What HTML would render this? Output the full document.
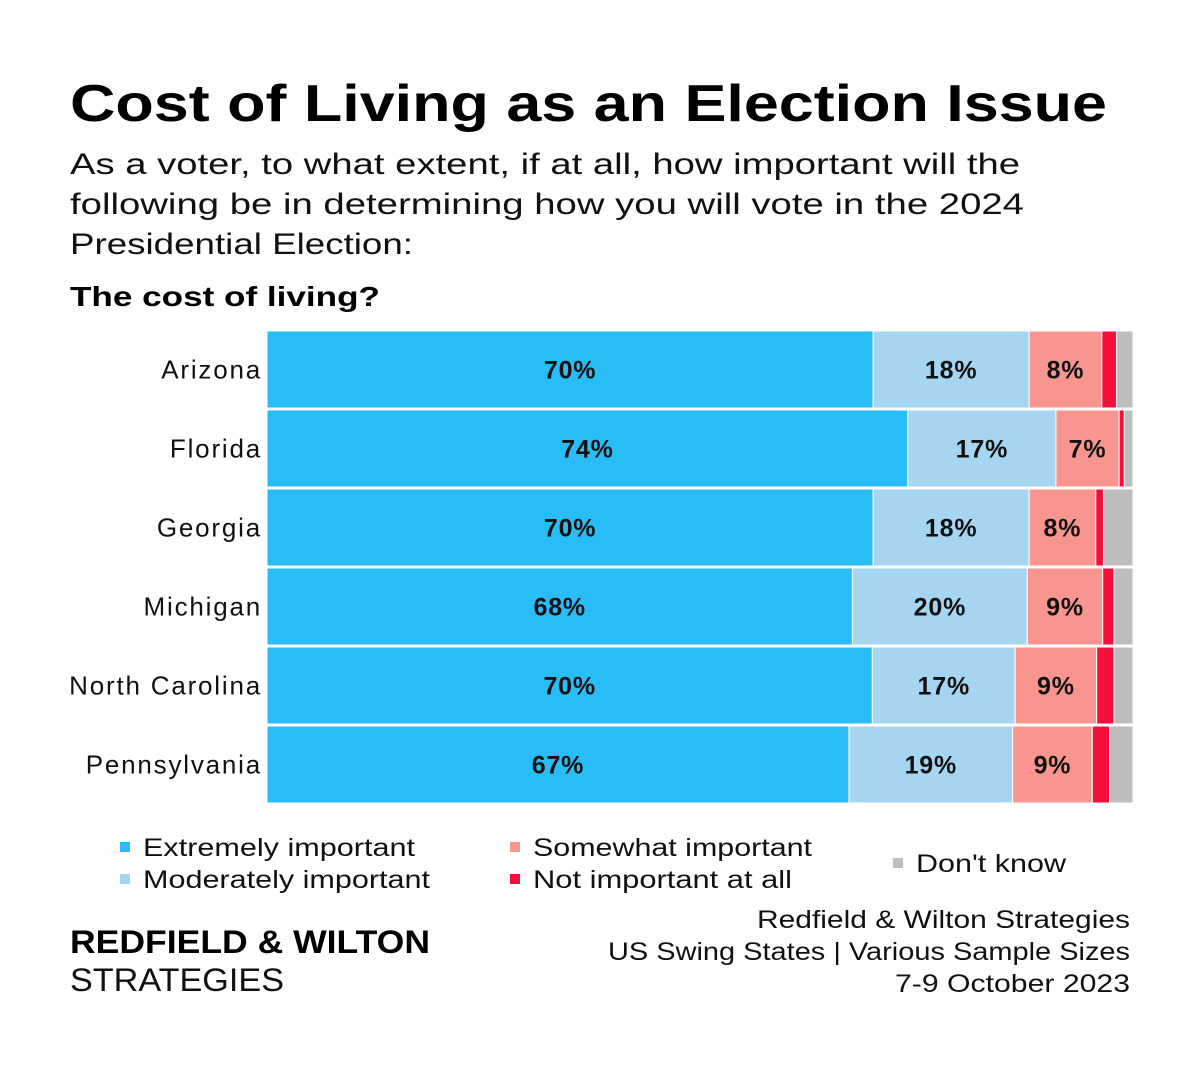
<!DOCTYPE html>
<html><head><meta charset="utf-8"><style>
html,body{margin:0;padding:0;background:#fff;}
svg{display:block;font-family:"Liberation Sans",sans-serif;}
</style></head><body>
<svg id="chart" width="1200" height="1067" viewBox="0 0 1200 1067">
<text x="70" y="121" font-size="52" font-weight="bold" fill="#000" textLength="1037" lengthAdjust="spacingAndGlyphs">Cost of Living as an Election Issue</text>
<g font-size="30" fill="#111">
<text x="70" y="174" textLength="950" lengthAdjust="spacingAndGlyphs">As a voter, to what extent, if at all, how important will the</text>
<text x="70" y="214" textLength="954" lengthAdjust="spacingAndGlyphs">following be in determining how you will vote in the 2024</text>
<text x="70" y="254" textLength="343" lengthAdjust="spacingAndGlyphs">Presidential Election:</text>
</g>
<text x="70" y="306" font-size="28" font-weight="bold" fill="#000" textLength="310" lengthAdjust="spacingAndGlyphs">The cost of living?</text>
<g id="bars"></g>
<g font-size="25" fill="#111">
<rect x="120" y="842" width="10" height="10" fill="#29bdf8"/>
<text x="143" y="856" textLength="272" lengthAdjust="spacingAndGlyphs">Extremely important</text>
<rect x="120" y="874" width="10" height="10" fill="#a6d5f2"/>
<text x="143" y="888" textLength="287" lengthAdjust="spacingAndGlyphs">Moderately important</text>
<rect x="510" y="842" width="10" height="10" fill="#f8958f"/>
<text x="533" y="856" textLength="279" lengthAdjust="spacingAndGlyphs">Somewhat important</text>
<rect x="510" y="874" width="10" height="10" fill="#f5103c"/>
<text x="533" y="888" textLength="259" lengthAdjust="spacingAndGlyphs">Not important at all</text>
<rect x="893" y="858" width="10" height="10" fill="#bdbdbd"/>
<text x="916" y="872" textLength="150" lengthAdjust="spacingAndGlyphs">Don't know</text>
</g>
<text x="70" y="953" font-size="32" font-weight="bold" fill="#000" textLength="360" lengthAdjust="spacingAndGlyphs">REDFIELD &amp; WILTON</text>
<text x="70" y="991" font-size="32" fill="#111" textLength="214" lengthAdjust="spacingAndGlyphs">STRATEGIES</text>
<g font-size="25" fill="#111">
<text x="757" y="928" textLength="373" lengthAdjust="spacingAndGlyphs">Redfield &amp; Wilton Strategies</text>
<text x="608" y="960" textLength="522" lengthAdjust="spacingAndGlyphs">US Swing States | Various Sample Sizes</text>
<text x="895" y="992" textLength="235" lengthAdjust="spacingAndGlyphs">7-9 October 2023</text>
</g>
</svg>
<script>
const states = ["Arizona","Florida","Georgia","Michigan","North Carolina","Pennsylvania"];
const extremely = [70, 74, 70, 67.6, 69.9, 67.2];
const moderately = [18, 17.1, 18, 20.2, 16.5, 18.9];
const somewhat = [8.4, 7.3, 7.7, 8.7, 9.4, 9.2];
const notImportant = [1.7, 0.6, 0.9, 1.3, 2.0, 2.0];
const dontKnow = [1.9, 1.0, 3.4, 2.2, 2.2, 2.7];
const seriesNames = ["extremely","moderately","somewhat","not-important","dont-know"];
const seriesColors = ["#29bdf8","#a6d5f2","#f8958f","#f5103c","#bdbdbd"];

const NS = "http://www.w3.org/2000/svg";
const g = document.getElementById("bars");
const x0 = 267, plotW = 866, y0 = 331, rowH = 79, barH = 77;
const xScale = v => v / 100 * plotW;
const yScale = i => y0 + i * rowH;
const series = [extremely, moderately, somewhat, notImportant, dontKnow];

states.forEach((s, i) => {
  const y = yScale(i);
  const lab = document.createElementNS(NS, "text");
  lab.setAttribute("x", 262);
  lab.setAttribute("y", y + barH/2 + 9);
  lab.setAttribute("text-anchor", "end");
  lab.setAttribute("font-size", "26");
  lab.setAttribute("letter-spacing", "1.8");
  lab.setAttribute("fill", "#111");
  lab.textContent = s;
  
  
  g.appendChild(lab);
  let cum = 0;
  series.forEach((arr, k) => {
    const v = arr[i];
    const x = x0 + xScale(cum);
    const w = xScale(v);
    const r = document.createElementNS(NS, "rect");
    r.setAttribute("x", x);
    r.setAttribute("y", y);
    r.setAttribute("width", Math.max(w, 0));
    r.setAttribute("height", barH);
    r.setAttribute("fill", seriesColors[k]);
    r.setAttribute("stroke", "#fff");
    r.setAttribute("stroke-width", "1");
    
    
    g.appendChild(r);
    if (k < 3) {
      const t = document.createElementNS(NS, "text");
      t.setAttribute("x", x + w/2);
      t.setAttribute("y", y + barH/2 + 9);
      t.setAttribute("text-anchor", "middle");
      t.setAttribute("font-size", "25");
      t.setAttribute("letter-spacing", "0.8");
      t.setAttribute("font-weight", "bold");
      t.setAttribute("fill", "#111");
      t.textContent = Math.round(v) + "%";
      
      
      g.appendChild(t);
    }
    cum += v;
  });
});
</script>
</body></html>
